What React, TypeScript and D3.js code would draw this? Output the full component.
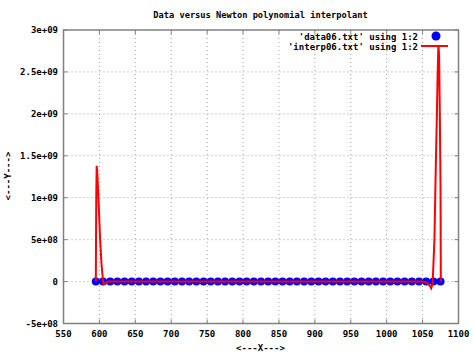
import React from "react";
import * as d3 from "d3";

const title = "Data versus Newton polynomial interpolant";
const xTicks = [550, 600, 650, 700, 750, 800, 850, 900, 950, 1000, 1050, 1100];
const yTicks = [-5e8, 0, 5e8, 1e9, 1.5e9, 2e9, 2.5e9, 3e9];
const yTickLabels = ["-5e+08", "0", "5e+08", "1e+09", "1.5e+09", "2e+09", "2.5e+09", "3e+09"];

// data06.txt: x positions (y all ~0)
const dataX = d3.range(595, 1076, 10);
const dataY = dataX.map(() => 0);

// interp06.txt
const interpX = [
  595, 595.6, 596.2, 597, 598.5, 601, 603, 605.5, 608, 612, 620, 700, 800, 900, 1000,
  1050, 1056, 1060, 1062, 1064, 1066.5, 1068.3, 1069.7, 1071, 1072, 1073, 1074, 1075, 1075.4,
];
const interpY = [
  0, 1.0e9, 1.38e9, 1.3e9, 1.03e9, 0.5e9, 0.2e9, -0.03e9, -0.02e9, 0, 0, 0, 0, 0, 0,
  0, -0.01e9, -0.05e9, -0.08e9, -0.02e9, 0.5e9, 1.33e9, 1.9e9, 2.5e9, 2.82e9, 2.7e9, 2.0e9, 1.1e9, 0,
];

const W = 474;
const H = 355;
const L = 63.5, R = 458.5, T = 30, B = 323.5;
const font = "'DejaVu Sans Mono', monospace";

export default function App() {
  const x = d3.scaleLinear().domain([550, 1100]).range([L, R]);
  const y = d3.scaleLinear().domain([-5e8, 3e9]).range([B, T]);
  const line = d3
    .line<number>()
    .x((_, i) => x(interpX[i]))
    .y((_, i) => y(interpY[i]));
  const tk = 4;
  return (
    <svg width={W} height={H} style={{ position: "absolute", left: 0, top: 0, background: "#fff" }}>
      <rect x={0} y={0} width={W} height={H} fill="#fff" />
      {/* grid */}
      {xTicks.slice(1, -1).map((v) => (
        <line key={"gx" + v} x1={x(v)} x2={x(v)} y1={T} y2={B} stroke="#a0a0a0" strokeWidth={1} strokeDasharray="1,3" />
      ))}
      {yTicks.slice(1, -1).map((v) => (
        <line key={"gy" + v} x1={L} x2={R} y1={y(v)} y2={y(v)} stroke="#a0a0a0" strokeWidth={1} strokeDasharray="1,3" />
      ))}
      {/* ticks */}
      {xTicks.map((v) => (
        <g key={"tx" + v}>
          <line x1={x(v)} x2={x(v)} y1={B} y2={B - tk} stroke="#808080" strokeWidth={1} />
          <line x1={x(v)} x2={x(v)} y1={T} y2={T + tk} stroke="#808080" strokeWidth={1} />
          <text x={x(v)} y={B + 13} textAnchor="middle" fontFamily={font} fontWeight="bold" fontSize={9} fill="#000">
            {v}
          </text>
        </g>
      ))}
      {yTicks.map((v, i) => (
        <g key={"ty" + v}>
          <line x1={L} x2={L + tk} y1={y(v)} y2={y(v)} stroke="#808080" strokeWidth={1} />
          <line x1={R} x2={R - tk} y1={y(v)} y2={y(v)} stroke="#808080" strokeWidth={1} />
          <text x={58} y={y(v) + 3} textAnchor="end" fontFamily={font} fontWeight="bold" fontSize={9} fill="#000">
            {yTickLabels[i]}
          </text>
        </g>
      ))}
      {/* data points */}
      {dataX.map((v, i) => (
        <circle key={"d" + v} cx={x(v)} cy={y(dataY[i])} r={4} fill="#0000ff" />
      ))}
      {/* interpolant */}
      <path d={line(interpX) || ""} fill="none" stroke="#ff0000" strokeWidth={2} strokeLinejoin="miter" />
      {/* border */}
      <rect x={L} y={T} width={R - L} height={B - T} fill="none" stroke="#808080" strokeWidth={1.5} />
      {/* title */}
      <text x={260.5} y={18} textAnchor="middle" fontFamily={font} fontWeight="bold" fontSize={8.7} fill="#000">
        {title}
      </text>
      {/* axis labels */}
      <text x={260.5} y={351} textAnchor="middle" fontFamily={font} fontWeight="bold" fontSize={9} fill="#000">
        {"<---X--->"}
      </text>
      <text
        transform={`translate(11,176) rotate(-90)`}
        textAnchor="middle"
        fontFamily={font}
        fontWeight="bold"
        fontSize={9}
        fill="#000"
      >
        {"<---Y--->"}
      </text>
      {/* legend */}
      <text x={418} y={40} textAnchor="end" fontFamily={font} fontWeight="bold" fontSize={9} fill="#000">
        {"'data06.txt' using 1:2"}
      </text>
      <circle cx={436} cy={36} r={4.5} fill="#0000ff" />
      <text x={418} y={49.5} textAnchor="end" fontFamily={font} fontWeight="bold" fontSize={9} fill="#000">
        {"'interp06.txt' using 1:2"}
      </text>
      <line x1={421} x2={448} y1={46} y2={46} stroke="#ff0000" strokeWidth={2} />
    </svg>
  );
}
